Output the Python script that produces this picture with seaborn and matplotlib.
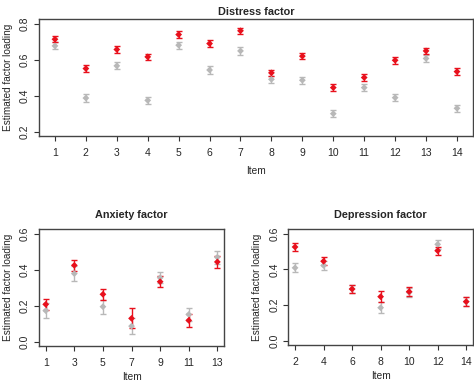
import numpy as np
import pandas as pd
import seaborn as sns
import matplotlib.pyplot as plt

# Distress factor (items 1-14)
distress_items = list(range(1, 15))
distress_red = [0.716, 0.553, 0.659, 0.618, 0.742, 0.692, 0.763, 0.529, 0.622, 0.447, 0.503, 0.599, 0.651, 0.536]
distress_gray = [0.679, 0.389, 0.568, 0.376, 0.683, 0.545, 0.651, 0.493, 0.488, 0.302, 0.447, 0.391, 0.609, 0.332]
distress_red_err = [0.018] * 14
distress_gray_err = [0.02] * 14

# Anxiety factor (odd items)
anxiety_items = [1, 3, 5, 7, 9, 11, 13]
anxiety_red = [0.208, 0.425, 0.264, 0.130, 0.334, 0.119, 0.444]
anxiety_gray = [0.173, 0.379, 0.195, 0.087, 0.356, 0.152, 0.470]
anxiety_red_err = [0.03, 0.03, 0.03, 0.055, 0.03, 0.035, 0.032]
anxiety_gray_err = [0.04, 0.04, 0.04, 0.045, 0.03, 0.035, 0.035]

# Depression factor (even items)
depression_items = [2, 4, 6, 8, 10, 12, 14]
depression_red = [0.526, 0.446, 0.290, 0.247, 0.275, 0.505, 0.219]
depression_gray = [0.409, 0.422, 0.290, 0.185, 0.271, 0.541, 0.219]
depression_red_err = [0.022, 0.022, 0.025, 0.03, 0.025, 0.022, 0.025]
depression_gray_err = [0.025, 0.025, 0.025, 0.03, 0.025, 0.025, 0.025]

RED = "#e8101c"
GRAY = "#b8b8b8"

sns.set_style("white")
plt.rcParams['font.family'] = ['Liberation Sans', 'DejaVu Sans']

fig = plt.figure(figsize=(4.74, 3.82), dpi=100)
ax_top = fig.add_axes([0.082, 0.644, 0.916, 0.306])
ax_anx = fig.add_axes([0.082, 0.094, 0.391, 0.307])
ax_dep = fig.add_axes([0.608, 0.097, 0.390, 0.304])


def draw_panel(ax, items, red, gray, red_err, gray_err, title, xlim, ylim, yticks,
               title_pad, xlabel_pad):
    df = pd.DataFrame({
        "item": items * 2,
        "loading": gray + red,
        "err": gray_err + red_err,
        "group": ["gray"] * len(items) + ["red"] * len(items),
    })
    for grp, col in [("gray", GRAY), ("red", RED)]:
        sub = df[df["group"] == grp]
        ax.errorbar(sub["item"], sub["loading"], yerr=sub["err"], fmt="none",
                    ecolor=col, elinewidth=1.0, capsize=2.5, capthick=1.0, zorder=2)
    sns.scatterplot(data=df, x="item", y="loading", hue="group",
                    palette={"gray": GRAY, "red": RED}, marker="D", s=12,
                    edgecolor="none", legend=False, ax=ax, zorder=3)
    ax.set_xlim(*xlim)
    ax.set_ylim(*ylim)
    ax.set_xticks(items)
    ax.set_yticks(yticks)
    ax.set_yticklabels([f"{t:.1f}" for t in yticks], rotation=90, va="center")
    ax.tick_params(direction="out", length=3.5, width=0.8, labelsize=7.5,
                   bottom=True, left=True, color="#333333")
    ax.tick_params(axis="x", pad=5)
    ax.tick_params(axis="y", pad=3)
    for sp in ax.spines.values():
        sp.set_color("#444444")
        sp.set_linewidth(1.0)
    ax.set_title(title, fontsize=7.8, fontweight="bold", pad=title_pad)
    ax.set_xlabel("Item", fontsize=7.3, labelpad=xlabel_pad)
    ax.set_ylabel("Estimated factor loading", fontsize=7.2, labelpad=5)


draw_panel(ax_top, distress_items, distress_red, distress_gray,
           distress_red_err, distress_gray_err, "Distress factor",
           (0.48, 14.52), (0.178, 0.828), [0.2, 0.4, 0.6, 0.8], 3, 6)
draw_panel(ax_anx, anxiety_items, anxiety_red, anxiety_gray,
           anxiety_red_err, anxiety_gray_err, "Anxiety factor",
           (0.52, 13.48), (-0.024, 0.628), [0.0, 0.2, 0.4, 0.6], 8, 3)
draw_panel(ax_dep, depression_items, depression_red, depression_gray,
           depression_red_err, depression_gray_err, "Depression factor",
           (1.52, 14.48), (-0.024, 0.628), [0.0, 0.2, 0.4, 0.6], 8, 3)

fig.savefig("out.png", dpi=100)
